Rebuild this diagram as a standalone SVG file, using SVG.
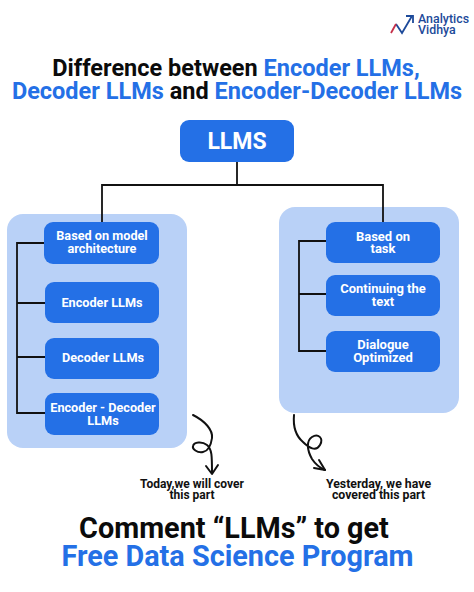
<svg xmlns="http://www.w3.org/2000/svg" width="474" height="592" viewBox="0 0 474 592">
<style>
.t{font-family:Roboto,"Liberation Sans",sans-serif;font-weight:700;text-anchor:middle}
.h{font-size:23.5px;fill:#0b0b0b}
.n{font-size:12.7px;fill:#fff}
.c{font-size:12px;fill:#111}
.f{font-size:28.8px}
.box{fill:#2470e6}
.panel{fill:#b9d1f7}
.ln{fill:none;stroke:#111;stroke-width:1.8}
.sq{fill:none;stroke:#111;stroke-width:2;stroke-linecap:round;stroke-linejoin:round}
.lg{font-family:Roboto,"Liberation Sans",sans-serif;font-weight:500;font-size:12.4px;fill:#1d4a9a}
</style>
<rect width="474" height="592" fill="#fff"/>
<g id="logo">
<path d="M396 24L402 33L412 16" fill="none" stroke="#1d4a9a" stroke-width="1.8"/>
<path d="M391 33L396 24" fill="none" stroke="#c5304a" stroke-width="1.8"/>
<path d="M406 16H413V23" fill="none" stroke="#1d4a9a" stroke-width="1.8"/>
<text class="lg" x="418" y="23">Analytics</text>
<text class="lg" x="418" y="34">Vidhya</text>
</g>
<g id="title">
<text class="t h" x="236" y="76"><tspan>Difference between </tspan><tspan fill="#2470e6">Encoder LLMs,</tspan></text>
<text class="t h" x="237" y="99"><tspan fill="#2470e6">Decoder LLMs</tspan><tspan> and </tspan><tspan fill="#2470e6">Encoder-Decoder LLMs</tspan></text>
</g>
<g id="panels">
<rect class="panel" x="7" y="214" width="180" height="234" rx="16"/>
<rect class="panel" x="279" y="207" width="180" height="206" rx="16"/>
</g>
<g id="connectors">
<path class="ln" d="M237 161V185"/>
<path class="ln" d="M102 222V185H383V222"/>
<path class="ln" d="M45 243H17V413H45M17 303H45M17 357H45"/>
<path class="ln" d="M326 241H299V351H326M299 294H326"/>
<path class="sq" d="M193 415C205 421 213 430 212 438C211 445 209 451 203 452C197 453 192 449 193 446C194 442 202 441 207 445C212 449 212 456 212 473"/>
<path class="sq" d="M206 466L212 474L218 465"/>
<path class="sq" d="M294 415C293 426 296 436 303 442C309 448 316 452 320 445C324 438 318 433 312 437C306 441 307 450 312 459C316 465 320 468 325 470"/>
<path class="sq" d="M314 468L325 470L319 460"/>
</g>
<g id="llms"><rect class="box" x="180" y="120" width="114" height="42" rx="9"/><text class="t" x="237" y="149" font-size="23" fill="#fff">LLMS</text></g>
<g id="n1"><rect class="box" x="44" y="222" width="115" height="42" rx="9"/><text class="t n" x="102" y="240">Based on model</text><text class="t n" x="102" y="253">architecture</text></g>
<g id="n2"><rect class="box" x="45" y="282" width="114" height="41" rx="9"/><text class="t n" x="102" y="307">Encoder LLMs</text></g>
<g id="n3"><rect class="box" x="45" y="338" width="114" height="41" rx="9"/><text class="t n" x="103" y="362">Decoder LLMs</text></g>
<g id="n4"><rect class="box" x="45" y="393" width="114" height="42" rx="9"/><text class="t n" x="103" y="412">Encoder - Decoder</text><text class="t n" x="103" y="424.500">LLMs</text></g>
<g id="n5"><rect class="box" x="326" y="222" width="114" height="41" rx="9"/><text class="t n" x="383" y="241" style="font-size:13px">Based on</text><text class="t n" x="383" y="253" style="font-size:13px">task</text></g>
<g id="n6"><rect class="box" x="326" y="275" width="114" height="41" rx="9"/><text class="t n" x="383" y="293" style="font-size:13px">Continuing the</text><text class="t n" x="383" y="306" style="font-size:13px">text</text></g>
<g id="n7"><rect class="box" x="326" y="331" width="114" height="41" rx="9"/><text class="t n" x="383" y="349" style="font-size:13px">Dialogue</text><text class="t n" x="383" y="362" style="font-size:13px">Optimized</text></g>
<g id="cap1"><text class="t c" x="192" y="488">Today,we will cover</text><text class="t c" x="192" y="499">this part</text></g>
<g id="cap2"><text class="t c" x="378.500" y="488" style="font-size:12.300px">Yesterday, we have</text><text class="t c" x="378.500" y="499" style="font-size:12.300px">covered this part</text></g>
<g id="footer">
<text class="t f" x="234" y="538" fill="#0b0b0b">Comment “LLMs” to get</text>
<text class="t f" x="237.500" y="566" fill="#2470e6">Free Data Science Program</text>
</g>
</svg>
